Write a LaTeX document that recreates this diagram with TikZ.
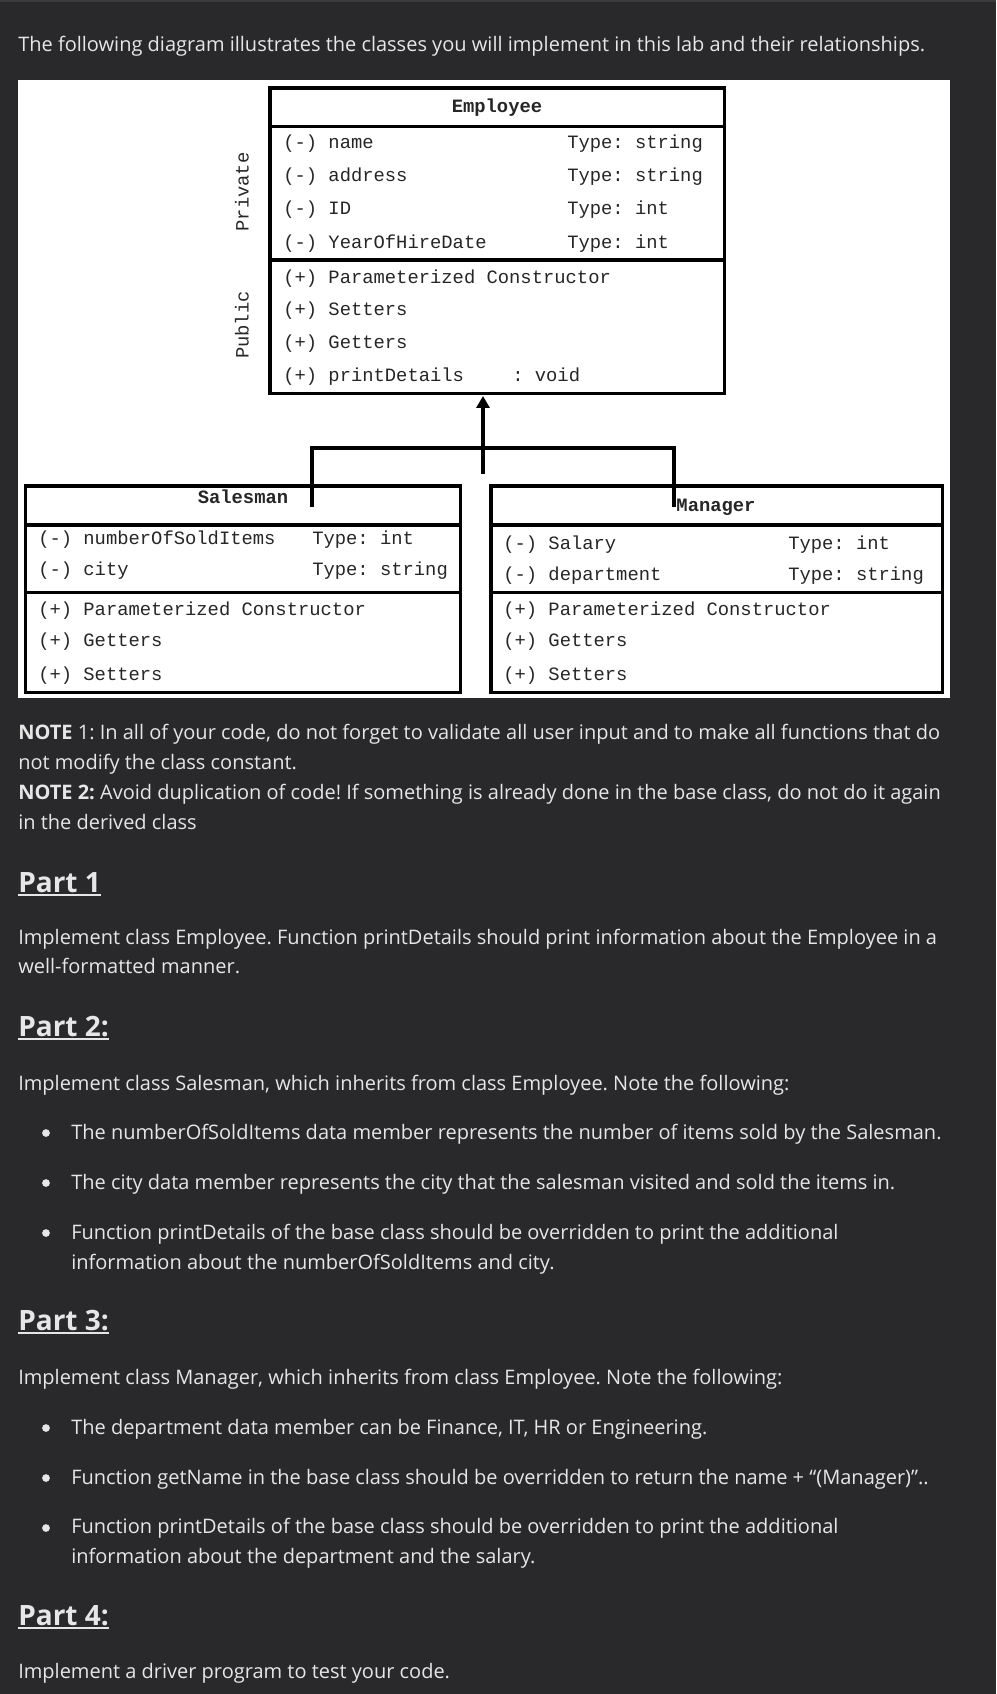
\documentclass[tikz,border=0pt]{standalone}
\usepackage{fontspec}
\setmainfont{Open Sans}
\newfontfamily\monof{Liberation Mono}
\usetikzlibrary{arrows.meta}
\definecolor{bg}{HTML}{29292C}
\definecolor{topbar}{HTML}{3B3B3E}
\definecolor{txt}{HTML}{E6E6E6}
\definecolor{ink}{HTML}{262626}
\frenchspacing
\begin{document}
\begin{tikzpicture}[x=0.75pt,y=-0.75pt,
  prose/.style={anchor=base west, inner sep=0pt, text=txt, font=\frenchspacing\fontsize{15}{18}\selectfont},
  head/.style={anchor=base west, inner sep=0pt, text=txt, font=\bfseries\fontsize{21}{24}\selectfont},
  ul/.style={draw=txt, line width=1.5pt},
  bullet/.style={circle, fill=txt, inner sep=0pt, minimum size=5.8pt},
  mono/.style={anchor=base west, inner sep=0pt, text=ink, font=\frenchspacing\monof\fontsize{14.12}{16}\selectfont},
  monob/.style={anchor=base, inner sep=0pt, text=ink, font=\monof\bfseries\fontsize{14.12}{16}\selectfont},
  umlbox/.style={draw=black, line width=2.4pt, inner sep=0pt, outer sep=0pt},
  divider/.style={draw=black, line width=2.4pt},
  conn/.style={draw=black, line width=2.6pt}
]
\useasboundingbox (0,0) rectangle (996,1694);
\fill[bg] (0,0) rectangle (996,1694);
\fill[topbar] (0,0) rectangle (996,2);

\node[prose] (title) at (18,52) {The following diagram illustrates the classes you will implement in this lab and their relationships.};

% diagram panel
\fill[white] (18,80) rectangle (950,698);

% Employee
\node[umlbox, minimum width=340.875pt, minimum height=228.975pt] (emp) at (497.25,240.65) {};
\draw[divider] (emp.west |- 0,126.7) -- (emp.east |- 0,126.7);
\draw[divider] (emp.west |- 0,260) -- (emp.east |- 0,260);
\node[monob] (empT) at (497,113) {Employee};
\node[mono] (e1) at (283,149) {(-) name};
\node[mono] (e2) at (283,182) {(-) address};
\node[mono] (e3) at (283,215) {(-) ID};
\node[mono] (e4) at (283,248) {(-) YearOfHireDate};
\node[mono] (e1t) at (567,149) {Type: string};
\node[mono] (e2t) at (567,182) {Type: string};
\node[mono] (e3t) at (567,215) {Type: int};
\node[mono] (e4t) at (567,248) {Type: int};
\node[mono] (e5) at (283,283) {(+) Parameterized Constructor};
\node[mono] (e6) at (283,315) {(+) Setters};
\node[mono] (e7) at (283,348) {(+) Getters};
\node[mono] (e8) at (283,381) {(+) printDetails};
\node[mono] (e8t) at (512,381) {: void};
\node[mono, anchor=center, rotate=90] (priv) at (242,192) {Private};
\node[mono, anchor=center, rotate=90] (pub) at (242,325) {Public};

% Salesman
\node[umlbox, minimum width=326.25pt, minimum height=154.725pt] (sal) at (243.2,589.2) {};
\draw[divider] (sal.west |- 0,525) -- (sal.east |- 0,525);
\draw[divider] (sal.west |- 0,592.3) -- (sal.east |- 0,592.3);
\node[monob] (salT) at (243,503) {Salesman};
\node[mono] (s1) at (38,544) {(-) numberOfSoldItems};
\node[mono] (s2) at (38,575) {(-) city};
\node[mono] (s1t) at (312,544) {Type: int};
\node[mono] (s2t) at (312,575) {Type: string};
\node[mono] (s3) at (38,615) {(+) Parameterized Constructor};
\node[mono] (s4) at (38,646) {(+) Getters};
\node[mono] (s5) at (38,680) {(+) Setters};

% Manager
\node[umlbox, minimum width=338.475pt, minimum height=154.725pt] (man) at (716.7,589.2) {};
\draw[divider] (man.west |- 0,525) -- (man.east |- 0,525);
\draw[divider] (man.west |- 0,592.3) -- (man.east |- 0,592.3);
\node[monob] (manT) at (716,511) {Manager};
\node[mono] (m1) at (503,549) {(-) Salary};
\node[mono] (m2) at (503,580) {(-) department};
\node[mono] (m1t) at (788,549) {Type: int};
\node[mono] (m2t) at (788,580) {Type: string};
\node[mono] (m3) at (503,615) {(+) Parameterized Constructor};
\node[mono] (m4) at (503,646) {(+) Getters};
\node[mono] (m5) at (503,680) {(+) Setters};

% inheritance connectors
\coordinate (jn) at (483,474);
\coordinate (sj) at (312,507);
\coordinate (mj) at (674,507);
\draw[conn, -{Triangle[width=9.75pt,length=9pt]}, shorten >=2pt] (jn) -- (emp.south -| jn);
\draw[conn] (sj) -- ++(0,-59) -| (mj);

% notes
\node[prose] (n1) at (18,739) {\textbf{NOTE} 1: In all of your code, do not forget to validate all user input and to make all functions that do};
\node[prose] (n1b) at (18,769.5) {not modify the class constant.};
\node[prose] (n2) at (18,799.5) {\textbf{NOTE 2:} Avoid duplication of code! If something is already done in the base class, do not do it again};
\node[prose] (n2b) at (18,829.5) {in the derived class};

% Part 1
\node[head] (p1) at (18,892) {Part 1};
\draw[ul] ([yshift=-2.25pt]p1.base west) -- ([yshift=-2.25pt]p1.base east);
\node[prose] (p1a) at (18,944) {Implement class Employee. Function printDetails should print information about the Employee in a};
\node[prose] (p1b) at (18,973.5) {well-formatted manner.};

% Part 2
\node[head] (p2) at (18,1036) {Part 2:};
\draw[ul] ([yshift=-2.25pt]p2.base west) -- ([yshift=-2.25pt]p2.base east);
\node[prose] (p2a) at (18,1090) {Implement class Salesman, which inherits from class Employee. Note the following:};
\node[bullet] (b21) at (46,1133) {};
\node[prose] (p2b) at (71,1139.5) {The numberOfSoldItems data member represents the number of items sold by the Salesman.};
\node[bullet] (b22) at (46,1183) {};
\node[prose] (p2c) at (71,1189.5) {The city data member represents the city that the salesman visited and sold the items in.};
\node[bullet] (b23) at (46,1233) {};
\node[prose] (p2d) at (71,1239) {Function printDetails of the base class should be overridden to print the additional};
\node[prose] (p2e) at (71,1269) {information about the numberOfSoldItems and city.};

% Part 3
\node[head] (p3) at (18,1330) {Part 3:};
\draw[ul] ([yshift=-2.25pt]p3.base west) -- ([yshift=-2.25pt]p3.base east);
\node[prose] (p3a) at (18,1384) {Implement class Manager, which inherits from class Employee. Note the following:};
\node[bullet] (b31) at (46,1428) {};
\node[prose] (p3b) at (71,1434) {The department data member can be Finance, IT, HR or Engineering.};
\node[bullet] (b32) at (46,1478) {};
\node[prose] (p3c) at (71,1484) {Function getName in the base class should be overridden to return the name + “(Manager)”..};
\node[bullet] (b33) at (46,1528) {};
\node[prose] (p3d) at (71,1533.5) {Function printDetails of the base class should be overridden to print the additional};
\node[prose] (p3e) at (71,1563.5) {information about the department and the salary.};

% Part 4
\node[head] (p4) at (18,1625) {Part 4:};
\draw[ul] ([yshift=-2.25pt]p4.base west) -- ([yshift=-2.25pt]p4.base east);
\node[prose] (p4a) at (18,1678) {Implement a driver program to test your code.};
\end{tikzpicture}
\end{document}
